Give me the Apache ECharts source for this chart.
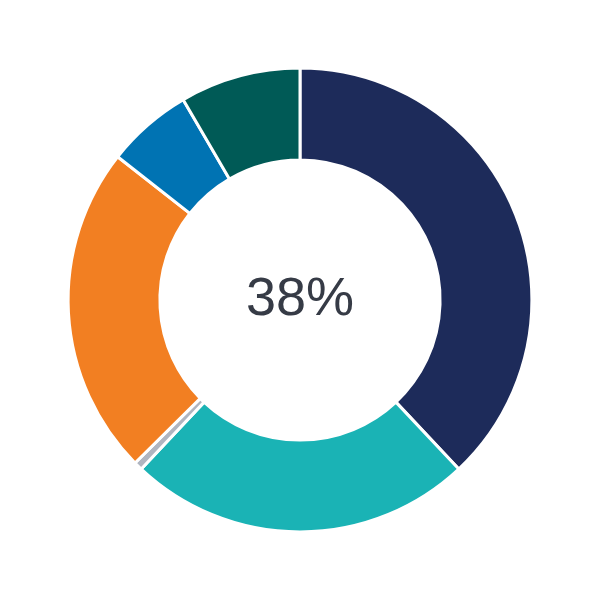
<!DOCTYPE html>
<html lang="en">
<head>
    <meta charset="UTF-8">
    <title>Donut</title>
    <script src="https://cdn.jsdelivr.net/npm/echarts@6/dist/echarts.min.js"></script>
</head>
<style>
    *{
        margin: 0;
        padding: 0;
    }
    html , body{
        width: 100%;
        height: 100%;
        overflow: hidden;
        background: #fff;
    }
    .container{
        width: 600px;
        height: 600px;
    }
</style>
<body>
<div class="container"></div>
<script>
    let names=['A','B','C','D','E','F'];
    let values=[38,24,0.6,23,6,8.4];
    let colors=['#1d2b5a','#1ab3b5','#b0b5c0','#f27f22','#0073b3','#005a56'];
    let centerText='38%';

    let container=document.querySelector('.container');
    let mycharts=echarts.init(container);

    let data=names.map((n,i)=>({name:n,value:values[i],itemStyle:{color:colors[i]}}));

    let option={
        animation:false,
        title:{
            text:centerText,
            left:'center',
            top:'middle',
            textStyle:{
                fontFamily:'Liberation Sans',
                fontSize:54,
                fontWeight:'normal',
                color:'#363b46'
            }
        },
        series:[{
            type:'pie',
            radius:['46.7%','77.3%'],
            center:['50%','50%'],
            startAngle:90,
            clockwise:true,
            label:{show:false},
            labelLine:{show:false},
            itemStyle:{
                borderColor:'#fff',
                borderWidth:3
            },
            data
        }]
    }
    mycharts.setOption(option);
</script>
</body>
</html>
